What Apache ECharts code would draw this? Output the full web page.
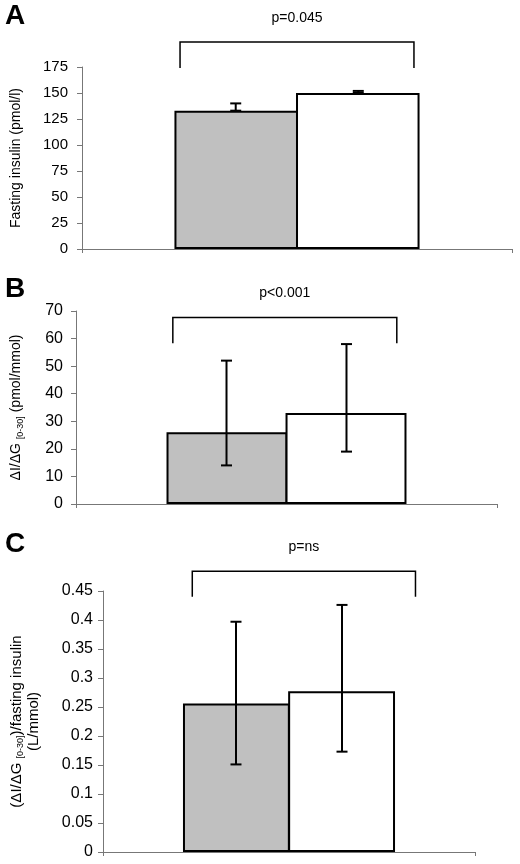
<!DOCTYPE html>
<html>
<head>
<meta charset="utf-8">
<style>
	html, body { margin: 0; padding: 0; background: #fff; }
	#main { width: 520px; height: 864px; }
</style>
<script src="https://cdn.jsdelivr.net/npm/echarts@6/dist/echarts.min.js"></script>
</head>
<body>
<div id="main"></div>
<script>
	// one category per panel, two groups (grey / white)
	var categories = [''];

	// A: fasting insulin (pmol/l)
	var fastingMean = [133, 150];
	var fastingLow = [133, 150];
	var fastingHigh = [140, 152];

	// B: dI/dG [0-30] (pmol/mmol)
	var ratioMean = [26, 33];
	var ratioLow = [14, 19];
	var ratioHigh = [52, 58];

	// C: (dI/dG [0-30])/fasting insulin (L/mmol)
	var normMean = [0.256, 0.277];
	var normLow = [0.151, 0.173];
	var normHigh = [0.397, 0.426];

	var yMax = [175, 70, 0.45];
	var yStep = [25, 10, 0.05];
	var pLabels = ['p=0.045', 'p<0.001', 'p=ns'];
	var bracketTop = [199, 67.6, 0.484];
	var bracketLeg = [174, 58.3, 0.44];
	var panelLetters = ['A', 'B', 'C'];

	var means = [fastingMean, ratioMean, normMean];
	var lows = [fastingLow, ratioLow, normLow];
	var highs = [fastingHigh, ratioHigh, normHigh];

	/*layout*/
	var FONT = '"Liberation Sans", Arial, sans-serif';
	var CAT_GAP = 0.43;
	var barColors = ['#c0c0c0', '#ffffff'];
	var grids = [
		{ left: 77, right: 8, top: 67, height: 182 },
		{ left: 76, right: 23, top: 311, height: 193 },
		{ left: 100, right: 45, top: 591, height: 261 }
	];
	var bracketSpan = [[-0.272, 0.272], [-0.270, 0.262], [-0.26, 0.34]];
	var tickFont = [15, 16, 16];
	var labelMargin = [14, 13, 10];
	var nameGap = [57, 51, 61];
	var letterTop = [2, 275, 530];
	var yNames = [
		'Fasting insulin (pmol/l)',
		'{n|ΔI/ΔG }{s|[0-30]}{n| (pmol/mmol)}',
		'{n|(ΔI/ΔG }{s|[0-30]}{n|)/fasting insulin}\n{n|(L/mmol)}'
	];
	var nameSize = [14, 14, 15];

	//error bar on one of the two bars
	function renderError(params, api) {
		var band = api.size([1, 0])[0];
		var barW = band * (1 - CAT_GAP) / 2;
		var slot = api.value(3);
		var lo = api.coord([api.value(0), api.value(1)]);
		var hi = api.coord([api.value(0), api.value(2)]);
		var x = lo[0] + (slot === 0 ? -barW / 2 : barW / 2);
		var cap = 5.5;
		var st = { stroke: '#000', lineWidth: 2 };
		return {
			type: 'group',
			children: [
				{ type: 'line', shape: { x1: x, y1: lo[1], x2: x, y2: hi[1] }, style: st },
				{ type: 'line', shape: { x1: x - cap, y1: hi[1], x2: x + cap, y2: hi[1] }, style: st },
				{ type: 'line', shape: { x1: x - cap, y1: lo[1], x2: x + cap, y2: lo[1] }, style: st }
			]
		};
	}

	//significance bracket + p label
	function makeBracket(k) {
		return function(params, api) {
			var band = api.size([1, 0])[0];
			var top = api.coord([api.value(0), api.value(1)]);
			var leg = api.coord([api.value(0), api.value(2)]);
			var x1 = top[0] + band * bracketSpan[k][0];
			var x2 = top[0] + band * bracketSpan[k][1];
			return {
				type: 'group',
				children: [{
					type: 'polyline',
					shape: { points: [[x1, leg[1]], [x1, top[1]], [x2, top[1]], [x2, leg[1]]] },
					style: { stroke: '#000', lineWidth: 1.5, fill: null }
				}, {
					type: 'text',
					style: {
						text: pLabels[k],
						x: (x1 + x2) / 2,
						y: top[1] - 24,
						align: 'center',
						verticalAlign: 'middle',
						fontSize: 14,
						fontFamily: FONT,
						fill: '#000'
					}
				}]
			};
		};
	}

	var grid = [], xAxis = [], yAxis = [], series = [], graphic = [];

	for (var k = 0; k < 3; k++) {
		grid.push(grids[k]);
		xAxis.push({
			type: 'category',
			gridIndex: k,
			data: categories,
			axisLine: { lineStyle: { color: '#777', width: 1 } },
			axisTick: { show: true, length: 4, lineStyle: { color: '#777' } },
			axisLabel: { show: false }
		});
		yAxis.push({
			type: 'value',
			gridIndex: k,
			min: 0,
			max: yMax[k],
			interval: yStep[k],
			splitLine: { show: false },
			axisLine: { show: true, lineStyle: { color: '#777', width: 1 } },
			axisTick: { show: true, length: 5, lineStyle: { color: '#777' } },
			axisLabel: { color: '#000', fontSize: tickFont[k], fontFamily: FONT, margin: labelMargin[k] },
			name: yNames[k],
			nameLocation: 'middle',
			nameRotate: 90,
			nameGap: nameGap[k],
			nameTextStyle: {
				color: '#000',
				fontSize: nameSize[k],
				fontFamily: FONT,
				lineHeight: 17,
				rich: {
					n: { fontSize: nameSize[k], fontFamily: FONT, color: '#000', lineHeight: 17 },
					s: { fontSize: 9, fontFamily: FONT, color: '#000', verticalAlign: 'bottom', lineHeight: 17 }
				}
			}
		});

		for (var g = 0; g < 2; g++) {
			series.push({
				type: 'bar',
				xAxisIndex: k,
				yAxisIndex: k,
				data: [means[k][g]],
				barGap: '-1.6%',
				barCategoryGap: (CAT_GAP * 100) + '%',
				itemStyle: { color: barColors[g], borderColor: '#000', borderWidth: 2 }
			});
		}

		series.push({
			type: 'custom',
			xAxisIndex: k,
			yAxisIndex: k,
			clip: false,
			z: 5,
			renderItem: renderError,
			encode: { x: 0, y: [1, 2] },
			data: [
				[0, lows[k][0], highs[k][0], 0],
				[0, lows[k][1], highs[k][1], 1]
			]
		});

		series.push({
			type: 'custom',
			xAxisIndex: k,
			yAxisIndex: k,
			clip: false,
			z: 5,
			renderItem: makeBracket(k),
			encode: { x: 0, y: [1, 2] },
			data: [[0, bracketTop[k], bracketLeg[k]]]
		});

		graphic.push({
			type: 'text',
			left: 5,
			top: letterTop[k],
			style: { text: panelLetters[k], fontSize: 28, fontWeight: 'bold', fontFamily: FONT, fill: '#000' }
		});
	}

	var chart = echarts.init(document.getElementById('main'));
	chart.setOption({
		animation: false,
		backgroundColor: '#fff',
		grid: grid,
		xAxis: xAxis,
		yAxis: yAxis,
		series: series,
		graphic: graphic
	});
</script>
</body>
</html>
